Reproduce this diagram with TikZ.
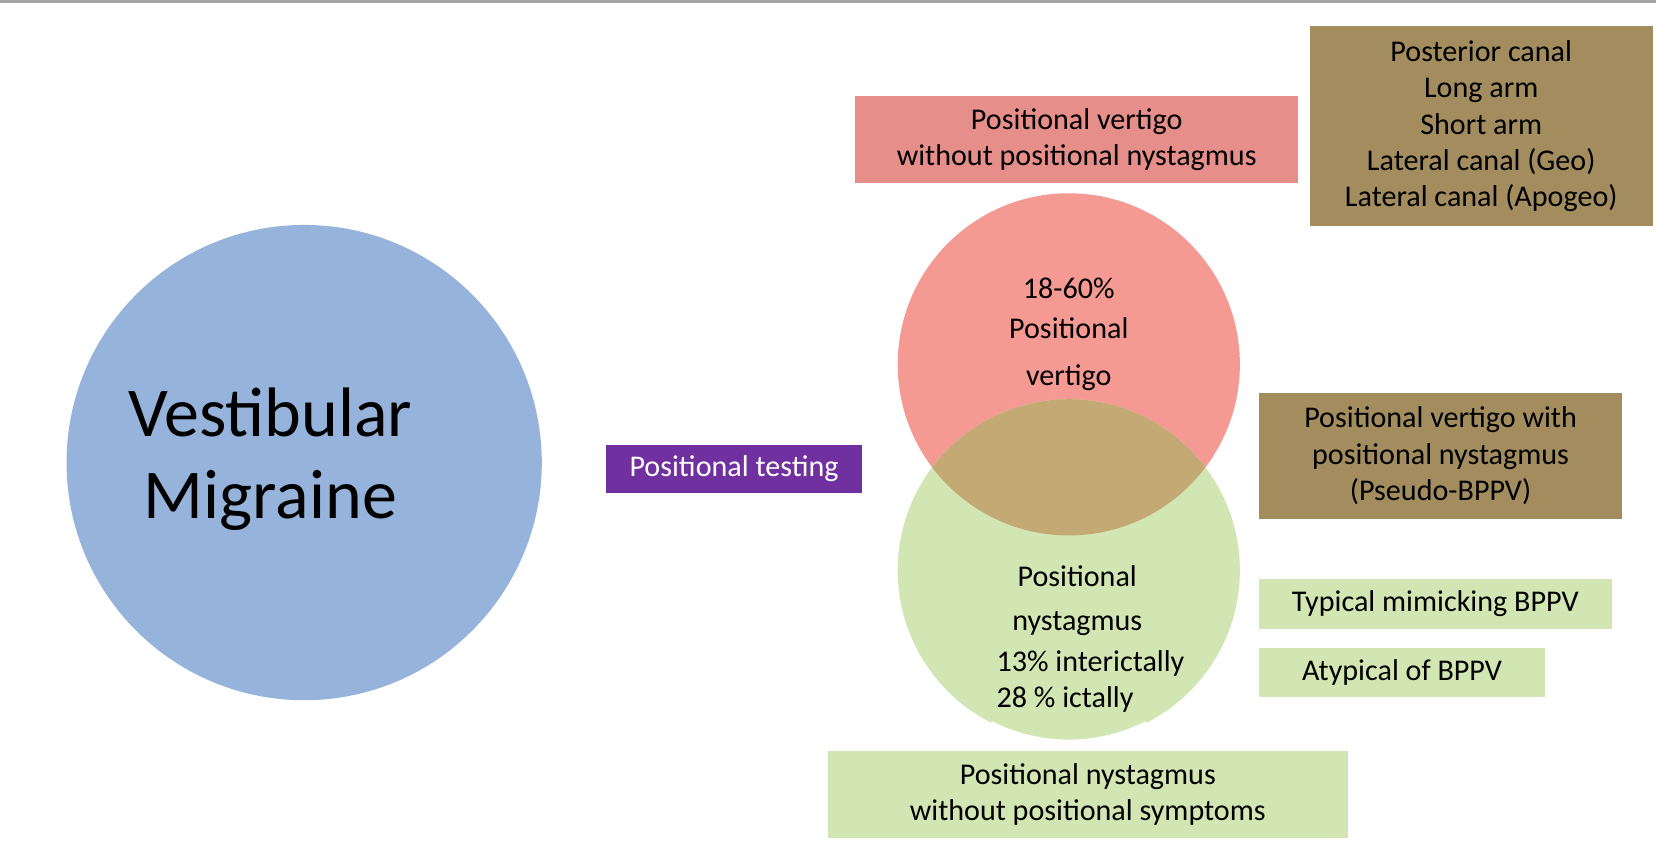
\documentclass[tikz,border=0pt]{standalone}
\usepackage{fontspec}
\setmainfont{Carlito}
\definecolor{vmblue}{HTML}{95B3DB}
\definecolor{pvred}{HTML}{F59A93}
\definecolor{pvbox}{HTML}{E68F8A}
\definecolor{pngreen}{HTML}{D1E6B2}
\definecolor{mixtan}{HTML}{C3A974}
\definecolor{bppvbrown}{HTML}{A38C5D}
\definecolor{testpurple}{HTML}{7030A0}
\tikzset{
  lbl/.style={inner sep=0pt, align=center, font=\fontsize{8.6}{10.4}\selectfont},
  tag/.style={draw=none, fill=#1, inner sep=0pt, align=center, font=\fontsize{8.6}{10.4}\selectfont},
}
\begin{document}
\begin{tikzpicture}[x=0.0106cm, y=-0.0106cm]

% 边界
\useasboundingbox (0,0) rectangle (1568,821);
\fill[white] (0,0) rectangle (1568,821);
\draw[gray!70, line width=1pt] (0,1) -- (1568,1);

% 大圆
\node[circle, fill=vmblue, minimum size=450*0.0106cm, inner sep=0pt] (vm) at (288,438) {};
\node[lbl, font=\fontsize{20}{23.5}\selectfont] (vmtext) at (256,435) {Vestibular\\Migraine};

% 两个相交的圆
\node[circle, fill=pvred, minimum size=324*0.0106cm, inner sep=0pt] (pv) at (1012,345) {};
\node[circle, fill=pngreen, minimum size=324*0.0106cm, inner sep=0pt] (pn) at (1012,540) {};
\begin{scope}
  \clip (1012,345) circle (162);
  \fill[mixtan] (1012,540) circle (162);
\end{scope}
\draw[white, line width=1pt] (1012,540) ++(63:162) arc (63:117:162);

% 圆内文字
\node[lbl] (pvpct) at (1012,273) {18-60\%};
\node[lbl] (pvtext) at (1012,335) {Positional\\[3pt]vertigo};
\node[lbl] (pntext1) at (1020,546) {Positional};
\node[lbl] (pntext2) at (1020,590) {nystagmus};
\node[lbl, anchor=west] (pninter) at (943,628) {13\% interictally};
\node[lbl, anchor=west] (pnictal) at (943,662) {28 \% ictally};

% 方框
\node[tag=testpurple, text=white, minimum width=242*0.0106cm, minimum height=46*0.0106cm] (test) at (695,444) {Positional testing};
\node[tag=pvbox, minimum width=419*0.0106cm, minimum height=82*0.0106cm] (nonyst) at (1019.5,132) {Positional vertigo\\without positional nystagmus};
\node[tag=bppvbrown, minimum width=325*0.0106cm, minimum height=189*0.0106cm] (canals) at (1402.5,119.5) {Posterior canal\\Long arm\\Short arm\\Lateral canal (Geo)\\Lateral canal (Apogeo)};
\node[tag=bppvbrown, minimum width=344*0.0106cm, minimum height=119*0.0106cm] (pseudo) at (1364,431.5) {Positional vertigo with\\positional nystagmus\\(Pseudo-BPPV)};
\node[tag=pngreen, minimum width=334*0.0106cm, minimum height=48*0.0106cm] (typical) at (1359,572) {Typical mimicking BPPV};
\node[tag=pngreen, minimum width=271*0.0106cm, minimum height=46*0.0106cm] (atypical) at (1327.5,637) {Atypical of BPPV};
\node[tag=pngreen, minimum width=492*0.0106cm, minimum height=82*0.0106cm] (nosymp) at (1030,752) {Positional nystagmus\\without positional symptoms};

\end{tikzpicture}
\end{document}
